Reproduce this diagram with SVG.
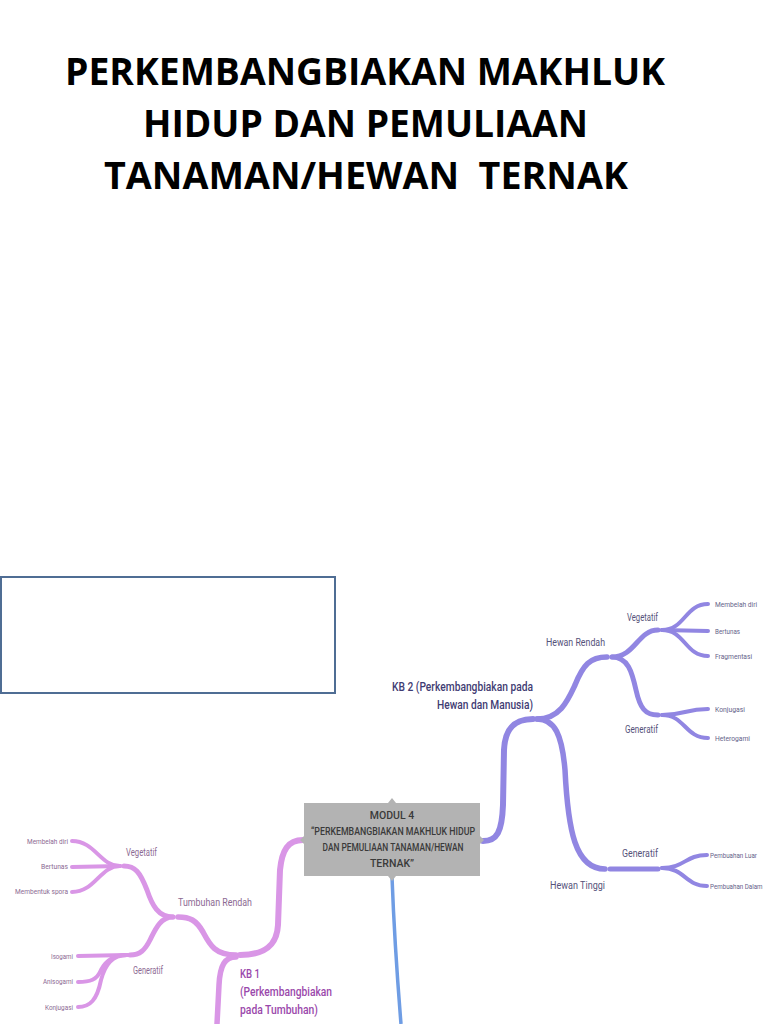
<svg xmlns="http://www.w3.org/2000/svg" width="768" height="1024" viewBox="0 0 768 1024">
<style>
.title{font-family:"Open Sans","Liberation Sans",sans-serif;font-weight:bold;font-size:38px;fill:#000}
.r{fill:none;stroke:#9186e2;stroke-linecap:round}
.l{fill:none;stroke:#d996e6;stroke-linecap:round}
.lbR{font-family:"Roboto","Liberation Sans",sans-serif;font-size:11px;fill:#55527a}
.smR{font-family:"Roboto","Liberation Sans",sans-serif;font-size:8px;fill:#66638a}
.lbL{font-family:"Roboto","Liberation Sans",sans-serif;font-size:11px;fill:#8c6a93}
.smL{font-family:"Roboto","Liberation Sans",sans-serif;font-size:8px;fill:#8c6a93}
.kb2{font-family:"Roboto","Liberation Sans",sans-serif;font-size:12.5px;font-weight:500;fill:#3f3c73}
.kb1{font-family:"Roboto","Liberation Sans",sans-serif;font-size:12.5px;font-weight:500;fill:#9a48ab}
.mod{font-family:"Roboto","Liberation Sans",sans-serif;font-size:10.5px;font-weight:500;fill:#3a3a3a}
</style>
<rect width="768" height="1024" fill="#fff"/>
<g id="title">
<text class="title" x="65" y="85" textLength="600" lengthAdjust="spacingAndGlyphs">PERKEMBANGBIAKAN MAKHLUK</text>
<text class="title" x="143" y="137" textLength="445" lengthAdjust="spacingAndGlyphs">HIDUP DAN PEMULIAAN</text>
<text class="title" x="104" y="189" textLength="524" lengthAdjust="spacingAndGlyphs" xml:space="preserve">TANAMAN/HEWAN  TERNAK</text>
</g>
<g id="empty-box">
<rect x="1" y="577" width="334" height="116" fill="#fff" stroke="#4f6d94" stroke-width="2"/>
</g>
<g id="connectors">
<path d="M392,877 C394,930 397,975 401,1024" fill="none" stroke="#6f9de4" stroke-width="3.5"/>
<path class="r" stroke-width="6" d="M483,841 C497,841 502,832 503,805 L504,750 C505,728 515,719 533,719"/>
<path class="r" stroke-width="5.5" d="M537,719 C560,719 568,700 575,685 C583,665 590,657 607,657"/>
<path class="r" stroke-width="5.5" d="M537,719 C555,719 562,735 565,770 C568,830 575,869 605,869"/>
<path class="r" stroke-width="5" d="M610,869 L658,869"/>
<path class="r" stroke-width="4" d="M662,868 C685,868 685,855 707,855"/>
<path class="r" stroke-width="4" d="M662,868 C685,868 685,886 707,886"/>
<path class="r" stroke-width="5" d="M612,657 C635,657 638,630 658,630"/>
<path class="r" stroke-width="5" d="M612,657 C628,657 632,672 636,690 C640,708 645,715 658,715"/>
<path class="r" stroke-width="4" d="M662,630 C685,630 685,604 708,604"/>
<path class="r" stroke-width="4" d="M662,630 L708,631"/>
<path class="r" stroke-width="4" d="M662,630 C685,630 685,656 708,656"/>
<path class="r" stroke-width="4" d="M662,715 C685,715 685,709 708,709"/>
<path class="r" stroke-width="4" d="M662,715 C685,715 685,738 708,738"/>
<path class="l" stroke-width="6" d="M303,840 C288,840 282,850 280,870 L278,925 C277,945 265,955 240,955"/>
<path class="l" stroke-width="5.5" d="M236,955 C215,955 210,945 203,932 C196,920 190,917 178,917"/>
<path class="l" stroke-width="5.5" d="M236,957 C225,957 220,965 219,985 L217,1024"/>
<path class="l" stroke-width="5" d="M173,917 C158,917 152,905 147,890 C140,872 135,866 124,866"/>
<path class="l" stroke-width="5" d="M173,917 C160,917 155,930 150,940 C145,950 140,955 130,955"/>
<path class="l" stroke-width="4" d="M120,866 C100,866 95,841 72,841"/>
<path class="l" stroke-width="4" d="M120,866 L72,867"/>
<path class="l" stroke-width="4" d="M120,866 C100,866 95,892 72,892"/>
<path class="l" stroke-width="4" d="M127,955 L78,956"/>
<path class="l" stroke-width="4" d="M127,955 C112,955 105,962 101,970 C97,980 90,982 78,982"/>
<path class="l" stroke-width="4" d="M127,955 C112,955 105,965 101,980 C97,1000 90,1007 78,1007"/>
</g>
<g id="modul4">
<rect x="304" y="803" width="176" height="73" fill="#b3b3b3"/>
<path d="M388,803 L392,798 L396,803 Z M388,876 L392,881 L396,876 Z M304,836 L300,840 L304,844 Z M480,836 L484,840 L480,844 Z" fill="#b3b3b3"/>
<text class="mod" x="392" y="819" text-anchor="middle">MODUL 4</text>
<text class="mod" x="393" y="835" text-anchor="middle" textLength="164" lengthAdjust="spacingAndGlyphs">“PERKEMBANGBIAKAN MAKHLUK HIDUP</text>
<text class="mod" x="393" y="851" text-anchor="middle" textLength="141" lengthAdjust="spacingAndGlyphs">DAN PEMULIAAN TANAMAN/HEWAN</text>
<text class="mod" x="392" y="867" text-anchor="middle">TERNAK”</text>
</g>
<g id="kb2">
<text class="kb2" x="533" y="691" text-anchor="end" textLength="141" lengthAdjust="spacingAndGlyphs">KB 2 (Perkembangbiakan pada</text>
<text class="kb2" x="533" y="709" text-anchor="end" textLength="96" lengthAdjust="spacingAndGlyphs">Hewan dan Manusia)</text>
</g>
<g id="hewan-rendah"><text class="lbR" x="546" y="646" textLength="59" lengthAdjust="spacingAndGlyphs">Hewan Rendah</text></g>
<g id="vegetatif-r"><text class="lbR" x="627" y="621" textLength="31" lengthAdjust="spacingAndGlyphs">Vegetatif</text></g>
<g id="generatif-r1"><text class="lbR" x="625" y="733" textLength="33" lengthAdjust="spacingAndGlyphs">Generatif</text></g>
<g id="membelah-r"><text class="smR" x="715" y="607" textLength="42" lengthAdjust="spacingAndGlyphs">Membelah diri</text></g>
<g id="bertunas-r"><text class="smR" x="715" y="634" textLength="25" lengthAdjust="spacingAndGlyphs">Bertunas</text></g>
<g id="fragmentasi"><text class="smR" x="715" y="659" textLength="37" lengthAdjust="spacingAndGlyphs">Fragmentasi</text></g>
<g id="konjugasi-r"><text class="smR" x="715" y="712" textLength="30" lengthAdjust="spacingAndGlyphs">Konjugasi</text></g>
<g id="heterogami"><text class="smR" x="715" y="741" textLength="35" lengthAdjust="spacingAndGlyphs">Heterogami</text></g>
<g id="hewan-tinggi"><text class="lbR" x="550" y="889" textLength="55" lengthAdjust="spacingAndGlyphs">Hewan Tinggi</text></g>
<g id="generatif-r2"><text class="lbR" x="622" y="857" textLength="36" lengthAdjust="spacingAndGlyphs">Generatif</text></g>
<g id="pembuahan-luar"><text class="smR" transform="translate(710,858) scale(0.78,1)" x="0" y="0">Pembuahan Luar</text></g>
<g id="pembuahan-dalam"><text class="smR" transform="translate(710,889) scale(0.78,1)" x="0" y="0">Pembuahan Dalam</text></g>
<g id="kb1">
<text class="kb1" x="240" y="978" textLength="20" lengthAdjust="spacingAndGlyphs">KB 1</text>
<text class="kb1" x="240" y="996" textLength="92" lengthAdjust="spacingAndGlyphs">(Perkembangbiakan</text>
<text class="kb1" x="240" y="1014" textLength="78" lengthAdjust="spacingAndGlyphs">pada Tumbuhan)</text>
</g>
<g id="tumbuhan-rendah"><text class="lbL" x="178" y="906" textLength="74" lengthAdjust="spacingAndGlyphs">Tumbuhan Rendah</text></g>
<g id="vegetatif-l"><text class="lbL" x="126" y="856" textLength="31" lengthAdjust="spacingAndGlyphs">Vegetatif</text></g>
<g id="generatif-l"><text class="lbL" x="133" y="974" textLength="30" lengthAdjust="spacingAndGlyphs">Generatif</text></g>
<g id="membelah-l"><text class="smL" x="68" y="844" text-anchor="end" textLength="41" lengthAdjust="spacingAndGlyphs">Membelah diri</text></g>
<g id="bertunas-l"><text class="smL" x="68" y="869" text-anchor="end" textLength="27" lengthAdjust="spacingAndGlyphs">Bertunas</text></g>
<g id="membentuk-spora"><text class="smL" x="68" y="894" text-anchor="end" textLength="53" lengthAdjust="spacingAndGlyphs">Membentuk spora</text></g>
<g id="isogami"><text class="smL" x="73" y="959" text-anchor="end" textLength="22" lengthAdjust="spacingAndGlyphs">Isogami</text></g>
<g id="anisogami"><text class="smL" x="73" y="984" text-anchor="end" textLength="30" lengthAdjust="spacingAndGlyphs">Anisogami</text></g>
<g id="konjugasi-l"><text class="smL" x="73" y="1010" text-anchor="end" textLength="28" lengthAdjust="spacingAndGlyphs">Konjugasi</text></g>
</svg>
